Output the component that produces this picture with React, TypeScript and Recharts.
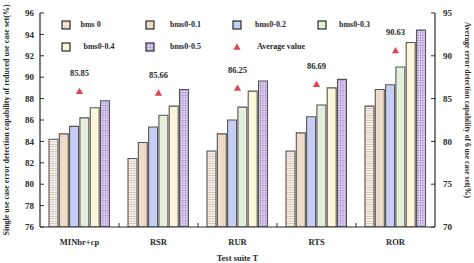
import React from 'react';
import { ComposedChart, Bar, Line, XAxis, YAxis, Label } from 'recharts';

const categories = ['MINbr+cp', 'RSR', 'RUR', 'RTS', 'ROR'];
const bms0 = [84.2, 82.4, 83.1, 83.1, 87.3];
const bms01 = [84.7, 83.9, 84.7, 84.8, 88.85];
const bms02 = [85.4, 85.35, 86.0, 86.3, 89.3];
const bms03 = [86.2, 86.45, 87.2, 87.4, 90.95];
const bms04 = [87.15, 87.3, 88.7, 89.0, 93.25];
const bms05 = [87.8, 88.85, 89.65, 89.8, 94.4];
const avgValues = [85.85, 85.66, 86.25, 86.69, 90.63];
const leftTicks = [76, 78, 80, 82, 84, 86, 88, 90, 92, 94, 96];
const rightTicks = [70, 75, 80, 85, 90, 95];
const seriesNames = ['bms 0', 'bms0-0.1', 'bms0-0.2', 'bms0-0.3', 'bms0-0.4', 'bms0-0.5'];
const avgName = 'Average value';
const xTitle = 'Test suite T';
const leftTitle = 'Single use case error detection capability of reduced use case set(%)';
const rightTitle = 'Average error detection capability of 6 use case set(%)';

const seriesValues = [bms0, bms01, bms02, bms03, bms04, bms05];
const seriesKeys = ['b0', 'b1', 'b2', 'b3', 'b4', 'b5'];
const seriesFills = ['url(#pH)', 'url(#pV)', '#c6cef5', '#e4eedb', '#fbf6da', 'url(#pG)'];

const data = categories.map((name, i) => {
  const row: any = { name, avg: avgValues[i] };
  seriesKeys.forEach((k, s) => (row[k] = seriesValues[s][i]));
  return row;
});

const W = 474;
const H = 263;
const LEFT_W = 40;
const RIGHT_W = 39;
const X_H = 36;
const TOP = 13;
const PLOT_W = W - LEFT_W - RIGHT_W;
const BAND = PLOT_W / categories.length;
const FONT = '"Liberation Serif", "Times New Roman", serif';
const INK = '#2a2a2a';
const RED = '#e2404c';

const LeftTick = (p: any) => {
  const axisX = p.x + 6;
  return (
    <g>
      <line x1={axisX} x2={axisX + 4} y1={p.y} y2={p.y} stroke={INK} strokeWidth={1} />
      <text x={p.x} y={p.y} dy="0.35em" textAnchor="end" fontFamily={FONT} fontSize={9} fontWeight="bold" fill={INK}>
        {p.payload.value}
      </text>
    </g>
  );
};

const RightTick = (p: any) => {
  const axisX = p.x - 8;
  return (
    <g>
      <line x1={axisX - 4} x2={axisX} y1={p.y} y2={p.y} stroke={INK} strokeWidth={1} />
      <text x={p.x} y={p.y} dy="0.35em" textAnchor="start" fontFamily={FONT} fontSize={9} fontWeight="bold" fill={INK}>
        {p.payload.value}
      </text>
    </g>
  );
};

const BottomTick = (p: any) => {
  const axisY = p.y;
  const last = p.index === categories.length - 1;
  return (
    <g>
      {!last && (
        <line x1={p.x + BAND / 2} x2={p.x + BAND / 2} y1={axisY} y2={axisY - 4} stroke={INK} strokeWidth={1} />
      )}
      <text x={p.x} y={axisY + 17.5} textAnchor="middle" fontFamily={FONT} fontSize={8.5} fontWeight="bold" fill={INK}>
        {p.payload.value}
      </text>
    </g>
  );
};

const Triangle = (p: any) => {
  const { cx, cy, index } = p;
  if (cx == null || cy == null) return <g key={index} />;
  return <path key={index} d={`M${cx},${cy - 3.5} L${cx + 3.6},${cy + 2.8} L${cx - 3.6},${cy + 2.8} Z`} fill={RED} />;
};

const AvgLabel = (p: any) => {
  const { x, y, value, index } = p;
  return (
    <text key={index} x={x} y={y - 15} textAnchor="middle" fontFamily={FONT} fontSize={8.5} fontWeight="bold" fill={INK}>
      {Number(value).toFixed(2)}
    </text>
  );
};

const legendPos = [
  { ix: 65.7, tx: 80.5, y: 25 },
  { ix: 150, tx: 170, y: 25 },
  { ix: 236.7, tx: 255, y: 25 },
  { ix: 321.7, tx: 339, y: 25 },
  { ix: 65.7, tx: 83.5, y: 46.7 },
  { ix: 150, tx: 170, y: 46.7 },
  { ix: 236.7, tx: 257, y: 46.7 },
];

const LegendOverlay = () => {
  const items = [...seriesNames.map((n, i) => ({ name: n, fill: seriesFills[i], tri: false })), { name: avgName, fill: RED, tri: true }];
  return (
    <>
      {items.map((it, i) => {
        const pos = legendPos[i];
        return (
          <React.Fragment key={it.name}>
            <svg
              width={10}
              height={10}
              style={{ position: 'absolute', left: pos.ix - 5, top: pos.y - 5, overflow: 'visible' }}
            >
              {it.tri ? (
                <path d="M5,1.5 L8.6,7.8 L1.4,7.8 Z" fill={RED} />
              ) : (
                <rect x={1} y={1} width={8} height={8} fill={it.fill} stroke={INK} strokeWidth={1.2} />
              )}
            </svg>
            <div
              style={{
                position: 'absolute',
                left: pos.tx,
                top: pos.y - 6,
                height: 12,
                lineHeight: '12px',
                fontFamily: FONT,
                fontSize: 8,
                fontWeight: 'bold',
                color: INK,
                whiteSpace: 'nowrap',
              }}
            >
              {it.name}
            </div>
          </React.Fragment>
        );
      })}
    </>
  );
};

export default function App() {
  return (
    <div style={{ position: 'absolute', left: 0, top: 0, width: W, height: H, background: '#fff' }}>
      <ComposedChart
        width={W}
        height={H}
        data={data}
        margin={{ top: TOP, right: 0, left: 0, bottom: 0 }}
        barGap={1.3}
        barSize={9}
      >
        <defs>
          <pattern id="pH" width="4" height="2.4" patternUnits="userSpaceOnUse">
            <rect width="4" height="2.4" fill="#fbf4ec" />
            <line x1="0" x2="4" y1="0.5" y2="0.5" stroke="#c2b3a4" strokeWidth="0.8" />
          </pattern>
          <pattern id="pV" width="2.4" height="4" patternUnits="userSpaceOnUse">
            <rect width="2.4" height="4" fill="#f1e0cd" />
            <line x1="0.5" x2="0.5" y1="0" y2="4" stroke="#e2cdb6" strokeWidth="0.7" />
          </pattern>
          <pattern id="pG" width="2.5" height="2.5" patternUnits="userSpaceOnUse">
            <rect width="2.5" height="2.5" fill="#ebdff7" />
            <line x1="0" x2="2.5" y1="0.5" y2="0.5" stroke="#a891d2" strokeWidth="0.7" />
            <line x1="0.5" x2="0.5" y1="0" y2="2.5" stroke="#a891d2" strokeWidth="0.7" />
          </pattern>
        </defs>
        <XAxis
          dataKey="name"
          height={X_H}
          tickLine={false}
          tickSize={0}
          tickMargin={0}
          axisLine={{ stroke: INK, strokeWidth: 1.2 }}
          tick={<BottomTick />}
          interval={0}
        >
          <Label
            content={(p: any) => {
              const vb = p.viewBox;
              return (
                <text x={vb.x + vb.width / 2} y={vb.y + 34} textAnchor="middle" fontFamily={FONT} fontSize={8.5} fontWeight="bold" fill={INK}>
                  {xTitle}
                </text>
              );
            }}
          />
        </XAxis>
        <YAxis
          yAxisId="left"
          orientation="left"
          width={LEFT_W}
          domain={[76, 96]}
          ticks={leftTicks}
          allowDataOverflow
          tickLine={false}
          tickSize={0}
          tickMargin={6}
          axisLine={{ stroke: INK, strokeWidth: 1.2 }}
          tick={<LeftTick />}
          interval={0}
        >
          <Label
            content={(p: any) => {
              const vb = p.viewBox;
              const cy = vb.y + vb.height / 2;
              return (
                <text x={6} y={cy} transform={`rotate(-90 6 ${cy})`} dy="0.35em" textAnchor="middle" fontFamily={FONT} fontSize={8} fontWeight="bold" fill={INK}>
                  {leftTitle}
                </text>
              );
            }}
          />
        </YAxis>
        <YAxis
          yAxisId="right"
          orientation="right"
          width={RIGHT_W}
          domain={[70, 95]}
          ticks={rightTicks}
          tickLine={false}
          tickSize={0}
          tickMargin={8}
          axisLine={{ stroke: INK, strokeWidth: 1.2 }}
          tick={<RightTick />}
          interval={0}
        >
          <Label
            content={(p: any) => {
              const vb = p.viewBox;
              const cx = W - 6;
              const cy = vb.y + vb.height / 2 - 10;
              return (
                <text x={cx} y={cy} transform={`rotate(90 ${cx} ${cy})`} dy="0.35em" textAnchor="middle" fontFamily={FONT} fontSize={7.6} fontWeight="bold" fill={INK}>
                  {rightTitle}
                </text>
              );
            }}
          />
        </YAxis>
        {seriesKeys.map((k, i) => (
          <Bar
            key={k}
            yAxisId="left"
            dataKey={k}
            name={seriesNames[i]}
            fill={seriesFills[i]}
            stroke="#555"
            strokeWidth={1.1}
            isAnimationActive={false}
          />
        ))}
        <Line
          yAxisId="right"
          dataKey="avg"
          name={avgName}
          stroke="none"
          dot={Triangle}
          activeDot={false}
          label={AvgLabel}
          isAnimationActive={false}
        />
      </ComposedChart>
      <LegendOverlay />
    </div>
  );
}
